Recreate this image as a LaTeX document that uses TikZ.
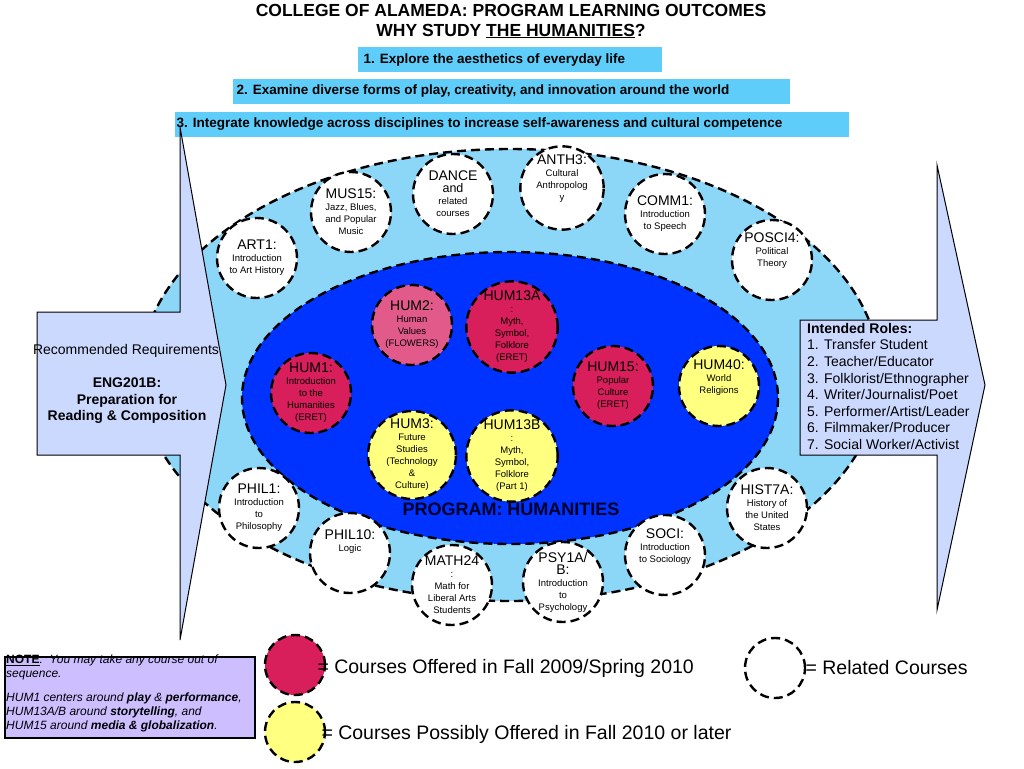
\documentclass[tikz,border=0pt]{standalone}
\usepackage{fontspec}
\setmainfont{Liberation Sans}
\begin{document}
\begin{tikzpicture}[x=1pt,y=-1pt,
  dsh/.style={line width=2.4pt,dash pattern=on 9pt off 5pt},
  crs/.style={circle,dsh,draw=black,fill=white,minimum size=80pt,inner sep=0pt,align=center,font=\fontsize{9.5}{12}\selectfont},
  red/.style={crs,fill=crim},
  yel/.style={crs,fill=yell},
  pnk/.style={crs,fill=pinkc},
]
\definecolor{cyanb}{RGB}{95,205,250}
\definecolor{light}{RGB}{140,215,248}
\definecolor{deep}{RGB}{0,51,255}
\definecolor{crim}{RGB}{216,30,91}
\definecolor{pinkc}{RGB}{226,90,138}
\definecolor{yell}{RGB}{255,255,128}
\definecolor{lav}{RGB}{204,217,255}
\definecolor{lavn}{RGB}{204,190,255}
\newcommand{\hh}[1]{{\fontsize{14}{15}\selectfont #1}}
\useasboundingbox (0,0) rectangle (1024,768);
\node[font=\bfseries\fontsize{17.5}{20}\selectfont,align=center] (title) at (511,21) {COLLEGE OF ALAMEDA: PROGRAM LEARNING OUTCOMES\\WHY STUDY \underline{THE HUMANITIES}?};
\fill[cyanb] (358,47) rectangle (662,72);
\node[anchor=west,font=\bfseries\fontsize{13.5}{15}\selectfont] (o1) at (360,60) {1. Explore the aesthetics of everyday life};
\fill[cyanb] (233,79) rectangle (790,104);
\node[anchor=west,font=\bfseries\fontsize{13.5}{15}\selectfont] (o2) at (233,91) {2. Examine diverse forms of play, creativity, and innovation around the world};
\fill[cyanb] (175,112) rectangle (849,137);
\node[anchor=west,font=\bfseries\fontsize{13.5}{15}\selectfont] (o3) at (173,124) {3. Integrate knowledge across disciplines to increase self-awareness and cultural competence};
% outer ellipse
\draw[dsh,fill=light] (510,375) ellipse [x radius=370,y radius=226];
% arrows
\draw[fill=lav,line width=1pt] (37,312) -- (180,312) -- (180,127) -- (226,385) -- (180,640) -- (180,455) -- (37,455) -- cycle;
\draw[fill=lav,line width=1pt] (800,320) -- (937,320) -- (937,165) -- (985,385) -- (937,610) -- (937,455) -- (800,455) -- cycle;
% inner ellipse
\draw[dsh,fill=deep] (510,398) ellipse [x radius=268,y radius=146];
% outer circles
\node[crs] (art1) at (257,258) {\hh{ART1:}\\Introduction\\to Art History};
\node[crs] (mus15) at (351,212) {\hh{MUS15:}\\Jazz, Blues,\\and Popular\\Music};
\node[crs] (dance) at (453,194) {\hh{DANCE}\\\fontsize{12.5}{15}\selectfont and\\related\\courses};
\node[crs] (anth3) at (562,188) {\hh{ANTH3:}\\Cultural\\Anthropolog\\y\\[8pt]};
\node[crs] (comm1) at (665,214) {\hh{COMM1:}\\Introduction\\to Speech};
\node[crs] (posci4) at (772,260) {\hh{POSCI4:}\\Political\\Theory\\[8pt]};
\node[crs] (phil1) at (259,508) {\hh{PHIL1:}\\Introduction\\to\\Philosophy};
\node[crs] (phil10) at (350,553) {\hh{PHIL10:}\\Logic\\[12pt]};
\node[crs] (math24) at (452,585) {\hh{MATH24}\\:\\Math for\\Liberal Arts\\Students};
\node[crs] (psy) at (563,582) {\hh{PSY1A/}\\\hh{B:}\\Introduction\\to\\Psychology};
\node[crs] (soci) at (665,555) {\hh{SOCI:}\\Introduction\\to Sociology\\[6pt]};
\node[crs] (hist7a) at (767,508) {\hh{HIST7A:}\\History of\\the United\\States};
% inner circles
\node[pnk] (hum2) at (412,325) {\hh{HUM2:}\\Human\\Values\\(FLOWERS)};
\node[red] (hum13a) at (512,327) {\hh{HUM13A}\\:\\Myth,\\Symbol,\\Folklore\\(ERET)};
\node[red] (hum1) at (311,393) {\hh{HUM1:}\\Introduction\\to the\\Humanities\\(ERET)};
\node[red] (hum15) at (613,386) {\hh{HUM15:}\\Popular\\Culture\\(ERET)};
\node[yel] (hum40) at (719,386) {\hh{HUM40:}\\World\\Religions\\[6pt]};
\node[yel] (hum3) at (412,455) {\hh{HUM3:}\\Future\\Studies\\(Technology\\\&\\Culture)};
\node[yel] (hum13b) at (512,456) {\hh{HUM13B}\\:\\Myth,\\Symbol,\\Folklore\\(Part 1)};
\node[font=\bfseries\fontsize{18}{20}\selectfont,text=black!85!blue] (prog) at (511,509) {PROGRAM: HUMANITIES};
% arrow texts
\node[font=\fontsize{14}{16}\selectfont] (rec) at (126,351) {Recommended Requirements};
\node[font=\bfseries\fontsize{14}{16.5}\selectfont,align=center] (eng) at (127,401) {ENG201B:\\Preparation for\\Reading \& Composition};
\node[anchor=north west,inner sep=0pt,font=\fontsize{14}{16.6}\selectfont,align=left] (roles) at (807,323) {\textbf{Intended Roles:}\\1. Transfer Student\\2. Teacher/Educator\\3. Folklorist/Ethnographer\\4. Writer/Journalist/Poet\\5. Performer/Artist/Leader\\6. Filmmaker/Producer\\7. Social Worker/Activist};
% legend
\node[red,minimum size=60pt] (lr) at (295,665) {};
\node[yel,minimum size=60pt] (ly) at (295,732) {};
\node[crs,minimum size=60pt] (lw) at (775,668) {};
\node[anchor=west,font=\fontsize{19.5}{22}\selectfont] (t1) at (314,668) {= Courses Offered in Fall 2009/Spring 2010};
\node[anchor=west,font=\fontsize{19.5}{22}\selectfont] (t2) at (318,734) {= Courses Possibly Offered in Fall 2010 or later};
\node[anchor=west,font=\fontsize{19.5}{22}\selectfont] (t3) at (802,668) {= Related Courses};
% note
\draw[fill=lavn,line width=1.5pt] (5,657) rectangle (255,738);
\node[anchor=north west,inner sep=0pt,font=\itshape\fontsize{12}{14}\selectfont,align=left] (note) at (6,655) {\upshape\bfseries\underline{NOTE}\mdseries\itshape:\ \ You may take any course out of\\sequence.\\[10pt]HUM1 centers around \textbf{play} \& \textbf{performance},\\HUM13A/B around \textbf{storytelling}, and\\HUM15 around \textbf{media \& globalization}.};
\end{tikzpicture}
\end{document}
